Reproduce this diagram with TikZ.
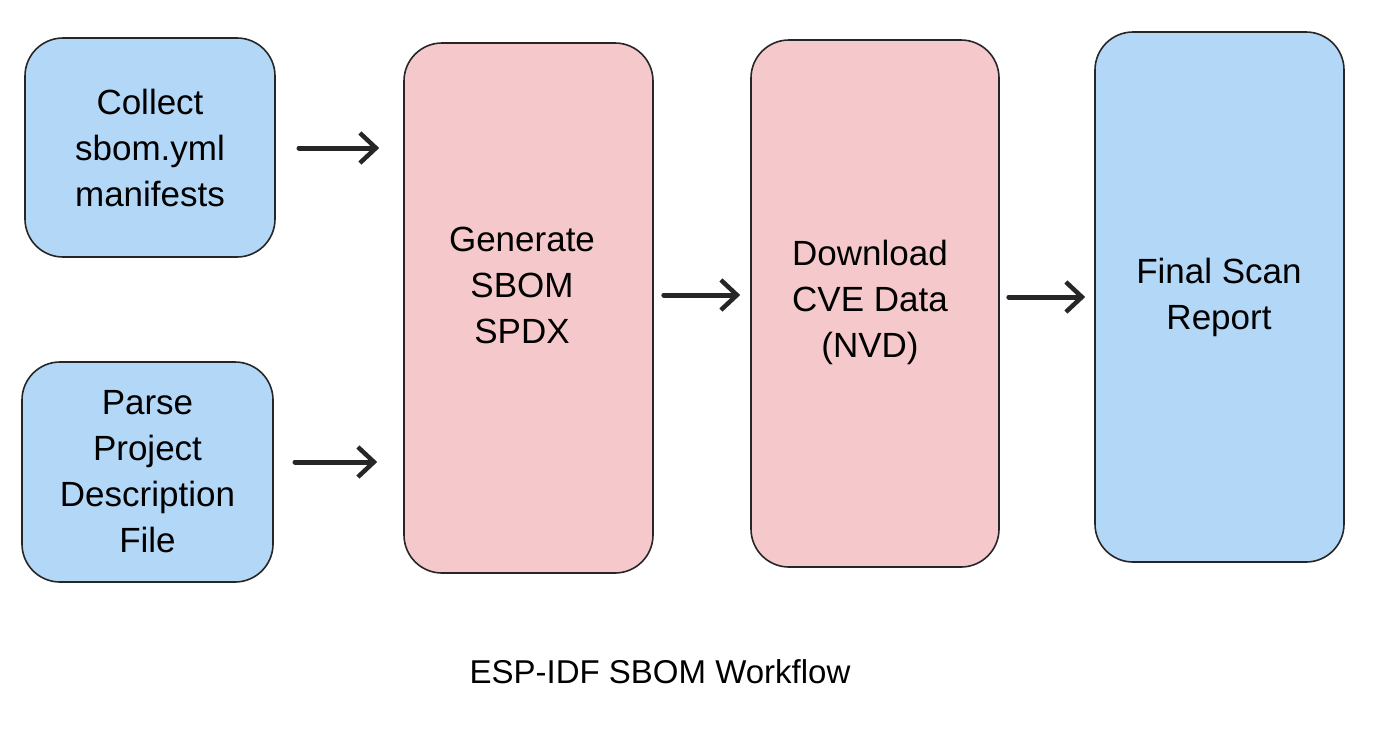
\documentclass[tikz,border=0pt]{standalone}
\usepackage{fontspec}
\setmainfont{Liberation Sans}
\usetikzlibrary{arrows.meta}
\definecolor{bl}{HTML}{B3D7F7}
\definecolor{pk}{HTML}{F5C9CB}
\tikzset{
 boxb/.style={draw=black!85,line width=1.6pt,rounded corners=38pt,fill=bl,align=center,font=\fontsize{35}{46}\selectfont,inner sep=0pt},
 boxp/.style={boxb,fill=pk},
 lbl/.style={align=center,font=\fontsize{35}{46}\selectfont},
 arr/.style={-{Straight Barb[length=16pt,width=30pt,line width=4.5pt]},line width=5pt,black!85,line cap=round}
}
\begin{document}
\begin{tikzpicture}[x=1pt,y=-1pt]
\useasboundingbox (0,0) rectangle (1388,732);
\node[boxb,minimum width=250pt,minimum height=219pt] (c) at (150,147.5) {Collect\\sbom.yml\\manifests};
\node[boxb,minimum width=251pt,minimum height=220pt] (p) at (147.5,472) {Parse\\Project\\Description\\File};
\node[boxp,minimum width=249pt,minimum height=530pt] (g) at (528.5,308) {};
\node[lbl] at (522,285) {Generate\\SBOM\\SPDX};
\node[boxp,minimum width=248pt,minimum height=527pt] (d) at (875,303.5) {};
\node[lbl] at (870,302) {Download\\CVE Data\\(NVD)};
\node[boxb,minimum width=249pt,minimum height=530pt] (f) at (1219.5,297) {};
\node[lbl] at (1219,297) {Final Scan\\Report};
\coordinate (a1) at (299,148); \coordinate (a2) at (295,462);
\draw[arr] (a1) -- ([xshift=-24pt]g.west |- a1);
\draw[arr] (a2) -- ([xshift=-26pt]g.west |- a2);
\draw[arr] ([xshift=10pt]g.east |- 0,295) -- ([xshift=-10pt]d.west |- 0,295);
\draw[arr] ([xshift=9pt]d.east |- 0,297) -- ([xshift=-9pt]f.west |- 0,297);
\node[font=\fontsize{33}{38}\selectfont] (t) at (660,672) {ESP-IDF SBOM Workflow};
\end{tikzpicture}
\end{document}
